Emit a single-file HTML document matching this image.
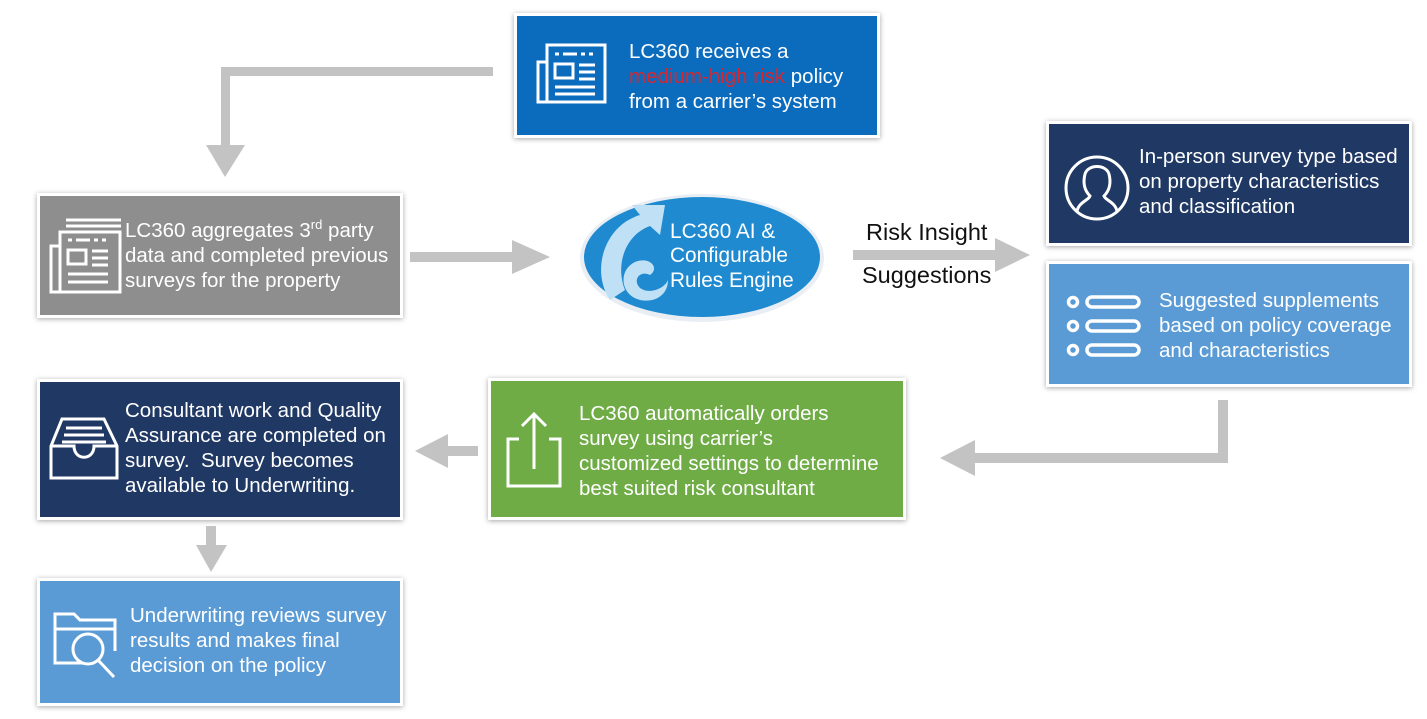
<!DOCTYPE html>
<html><head><meta charset="utf-8"><style>
body{margin:0;width:1427px;height:719px;background:#fff;position:relative;overflow:hidden;font-family:"Liberation Sans",sans-serif}
.b{position:absolute;box-sizing:border-box;border:3px solid #fff;box-shadow:0 1px 5px rgba(0,0,0,.35);color:#fff;font-size:20.5px;line-height:25px}
.b .t{position:absolute;white-space:nowrap}
.b svg{position:absolute}
</style></head><body>
<svg width="1427" height="719" style="position:absolute;left:0;top:0">
<g fill="#c3c3c3">
<rect x="221" y="67" width="272" height="9"/><rect x="221" y="67" width="9" height="80"/><polygon points="206,145 245,145 225,177"/>
<rect x="410" y="252" width="105" height="10"/><polygon points="512,240 550,257 512,274"/>
<rect x="853" y="250" width="145" height="10"/><polygon points="995,238 1030,255 995,272"/>
<rect x="1218" y="400" width="10" height="63"/><rect x="970" y="453" width="258" height="10"/><polygon points="975,440 940,458 975,476"/>
<rect x="445" y="446" width="33" height="10"/><polygon points="448,434 415,451 448,468"/>
<rect x="206" y="526" width="10" height="22"/><polygon points="196,545 227,545 211,572"/>
</g>
<ellipse cx="702" cy="258" rx="122" ry="64" fill="#e8eef4"/>
<ellipse cx="702" cy="257" rx="118" ry="60" fill="#1f8ad0"/>
<path d="M610 300 C590 270 605 225 640 215 L632 205 L665 205 L660 235 L650 226 C625 235 615 265 625 290 Z" fill="#bfe0f5"/>
<path d="M640 300 C620 295 618 270 635 262 C650 256 660 268 650 275 C640 270 632 280 640 288 C650 295 665 288 668 280 C668 295 655 303 640 300Z" fill="#bfe0f5"/>
<text x="670" y="238" fill="#fff" font-size="20.8" font-family="Liberation Sans">LC360 AI &amp;</text>
<text x="670" y="262" fill="#fff" font-size="20.8" font-family="Liberation Sans">Configurable</text>
<text x="670" y="287" fill="#fff" font-size="20.8" font-family="Liberation Sans">Rules Engine</text>
<text x="866" y="240" fill="#111" font-size="23.5" font-family="Liberation Sans">Risk Insight</text>
<text x="862" y="283" fill="#111" font-size="23.5" font-family="Liberation Sans">Suggestions</text>
</svg>

<div class="b" style="left:514px;top:13px;width:366px;height:125px;background:#0b6bbd">
<svg style="left:18px;top:26px" width="75" height="65" fill="none" stroke="#fff" stroke-width="3"><rect x="12" y="3" width="58" height="57"/><path d="M12 20 H3 V60 H12"/><path d="M20 12h4M28 12h14M46 12h4M54 12h4"/><rect x="20" y="22" width="18" height="14"/><path d="M44 23h16M44 30h16M44 37h16M20 45h40M20 52h40"/></svg>
<div class="t" style="left:112px;top:23px">LC360 receives a<br><span style="color:#d9262e">medium-high risk</span> policy<br>from a carrier’s system</div></div>

<div class="b" style="left:37px;top:193px;width:366px;height:125px;background:#8e8e8e">
<svg style="left:8px;top:20px" width="75" height="80" fill="none" stroke="#fff" stroke-width="3"><path d="M18 4h55M18 10h55"/><rect x="12" y="16" width="60" height="60"/><path d="M12 30H3V76h9"/><path d="M20 24h4M28 24h14M46 24h4M54 24h4"/><rect x="20" y="34" width="18" height="14"/><path d="M44 35h16M44 42h16M44 49h16M20 58h40M20 66h40"/></svg>
<div class="t" style="left:85px;top:22px">LC360 aggregates 3<sup style="font-size:13px;line-height:0">rd</sup> party<br>data and completed previous<br>surveys for the property</div></div>

<div class="b" style="left:1046px;top:121px;width:366px;height:125px;background:#1f3864">
<svg style="left:14px;top:30px" width="70" height="70" fill="none" stroke="#fff" stroke-width="3"><circle cx="34" cy="34" r="31"/><path d="M14 57 C16 48 26 46 27 42 C21 36 20 28 22 20 C25 10 43 10 46 20 C48 28 47 36 41 42 C42 46 52 48 54 57"/></svg>
<div class="t" style="left:90px;top:20px">In-person survey type based<br>on property characteristics<br>and classification</div></div>

<div class="b" style="left:1046px;top:261px;width:366px;height:126px;background:#5b9bd5">
<svg style="left:16px;top:30px" width="80" height="65" fill="none" stroke="#fff" stroke-width="3.5"><circle cx="8" cy="8" r="4.5"/><circle cx="8" cy="32" r="4.5"/><circle cx="8" cy="56" r="4.5"/><rect x="22" y="3" width="52" height="10" rx="5"/><rect x="22" y="27" width="52" height="10" rx="5"/><rect x="22" y="51" width="52" height="10" rx="5"/></svg>
<div class="t" style="left:110px;top:24px">Suggested supplements<br>based on policy coverage<br>and characteristics</div></div>

<div class="b" style="left:488px;top:378px;width:418px;height:142px;background:#6fac46">
<svg style="left:14px;top:28px" width="60" height="80" fill="none" stroke="#fff" stroke-width="3"><path d="M14 30H3V77H55V30H44"/><path d="M29 60V5M17 17L29 5L41 17"/></svg>
<div class="t" style="left:88px;top:20px">LC360 automatically orders<br>survey using carrier’s<br>customized settings to determine<br>best suited risk consultant</div></div>

<div class="b" style="left:37px;top:379px;width:366px;height:141px;background:#1f3864">
<svg style="left:6px;top:34px" width="76" height="65" fill="none" stroke="#fff" stroke-width="3"><path d="M16 3H58L71 30V62H5V30Z"/><path d="M5 30H28C28 45 48 45 48 30H71"/><path d="M20 12h36M18 19h40M16 26h44"/></svg>
<div class="t" style="left:85px;top:16px">Consultant work and Quality<br>Assurance are completed on<br>survey.&nbsp; Survey becomes<br>available to Underwriting.</div></div>

<div class="b" style="left:37px;top:578px;width:366px;height:128px;background:#5b9bd5">
<svg style="left:12px;top:30px" width="72" height="70" fill="none" stroke="#fff" stroke-width="3"><path d="M30 52H3V3H22L28 9H63V18H3"/><path d="M63 18V40"/><circle cx="36" cy="38" r="15"/><path d="M46 49L62 66"/></svg>
<div class="t" style="left:90px;top:22px">Underwriting reviews survey<br>results and makes final<br>decision on the policy</div></div>
</body></html>
